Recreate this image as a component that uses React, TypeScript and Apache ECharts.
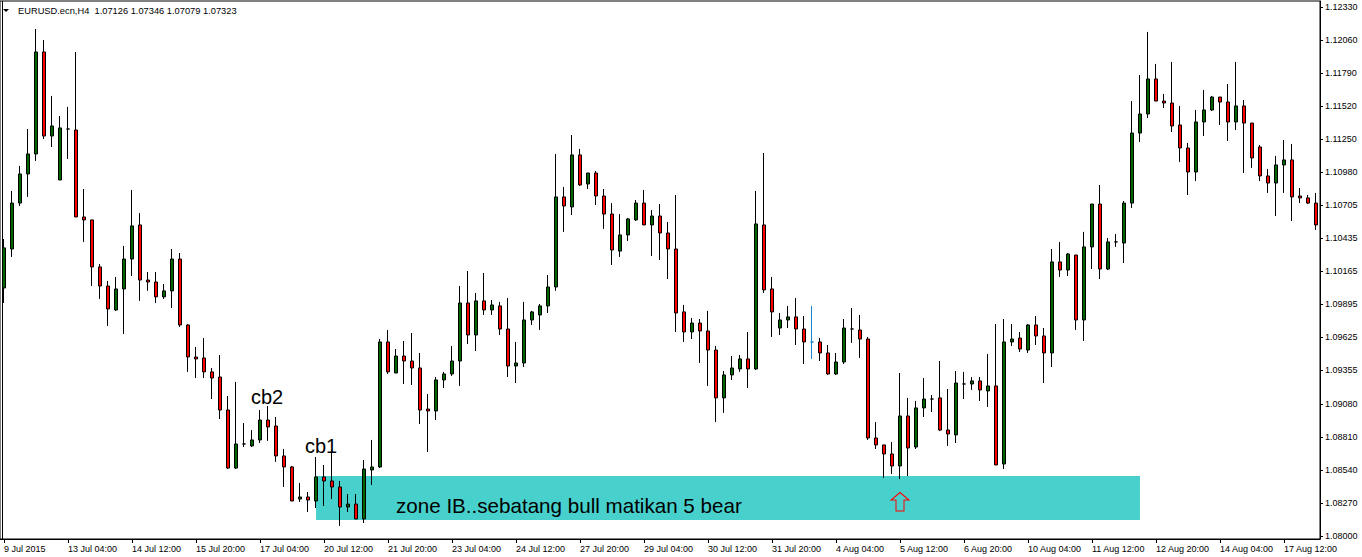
import React, { useEffect, useRef } from "react";
import * as echarts from "echarts";

const header = "EURUSD.ecn,H4  1.07126 1.07346 1.07079 1.07323";

const tickLabels = [
  "9 Jul 2015", "13 Jul 04:00", "14 Jul 12:00", "15 Jul 20:00", "17 Jul 04:00",
  "20 Jul 12:00", "21 Jul 20:00", "23 Jul 04:00", "24 Jul 12:00", "27 Jul 20:00",
  "29 Jul 04:00", "30 Jul 12:00", "31 Jul 20:00", "4 Aug 04:00", "5 Aug 12:00",
  "6 Aug 20:00", "10 Aug 04:00", "11 Aug 12:00", "12 Aug 20:00", "14 Aug 04:00",
  "17 Aug 12:00",
];
const barsPerLabel = 8;

const priceTicks = [
  1.08, 1.0827, 1.0854, 1.0881, 1.0908, 1.09355, 1.09625, 1.09895, 1.10165,
  1.10435, 1.10705, 1.1098, 1.1125, 1.1152, 1.1179, 1.1206, 1.1233,
];

const opens = [
  1.10030, 1.10349, 1.10725, 1.10963, 1.11127, 1.11962, 1.11274, 1.10914, 1.11331, 1.11323,
  1.10611, 1.10587, 1.10202, 1.10046, 1.09850, 1.10022, 1.10267, 1.10546, 1.10095, 1.10079,
  1.09957, 1.10006, 1.10267, 1.09727, 1.09465, 1.09457, 1.09343, 1.09301, 1.09031, 1.08556,
  1.08753, 1.08737, 1.08786, 1.08949, 1.08900, 1.08655, 1.08565, 1.08302, 1.08319, 1.08286,
  1.08483, 1.08450, 1.08401, 1.08237, 1.08261, 1.08139, 1.08540, 1.08565, 1.09588, 1.09334,
  1.09473, 1.09432, 1.09375, 1.09039, 1.09023, 1.09277, 1.09326, 1.09432, 1.09907, 1.09645,
  1.09924, 1.09850, 1.09883, 1.09694, 1.09391, 1.09416, 1.09768, 1.09809, 1.09883, 1.10038,
  1.10775, 1.10693, 1.11119, 1.10881, 1.10971, 1.10783, 1.10635, 1.10332, 1.10464, 1.10587,
  1.10725, 1.10546, 1.10619, 1.10480, 1.10349, 1.09834, 1.09670, 1.09743, 1.09678, 1.09522,
  1.09130, 1.09318, 1.09367, 1.09449, 1.09367, 1.10546, 1.10022, 1.09702, 1.09768, 1.09793,
  1.09694, 1.09588, 1.09588, 1.09498, 1.09326, 1.09424, 1.09694, 1.09686, 1.09612, 1.08802,
  1.08745, 1.08671, 1.08573, 1.08982, 1.08728, 1.09048, 1.09121, 1.09130, 1.08867, 1.08827,
  1.09244, 1.09244, 1.09269, 1.09187, 1.09228, 1.08589, 1.09588, 1.09620, 1.09522, 1.09727,
  1.09637, 1.09498, 1.10243, 1.10177, 1.10300, 1.09768, 1.10366, 1.10717, 1.10185, 1.10407,
  1.10398, 1.10725, 1.11298, 1.11454, 1.11741, 1.11560, 1.11544, 1.11364, 1.11176, 1.10979,
  1.11389, 1.11487, 1.11593, 1.11552, 1.11389, 1.11520, 1.11380, 1.11184, 1.10947, 1.10889,
  1.11037, 1.11078, 1.10783, 1.10767, 1.10725,
];

const closes = [
  1.10358, 1.10725, 1.10963, 1.11127, 1.11962, 1.11274, 1.11356, 1.11340, 1.11331, 1.10611,
  1.10587, 1.10202, 1.10046, 1.09858, 1.10022, 1.10267, 1.10538, 1.10095, 1.10079, 1.09957,
  1.10006, 1.10267, 1.09727, 1.09465, 1.09449, 1.09343, 1.09293, 1.09031, 1.08556, 1.08753,
  1.08753, 1.08786, 1.08949, 1.08892, 1.08655, 1.08565, 1.08286, 1.08319, 1.08294, 1.08483,
  1.08450, 1.08401, 1.08237, 1.08261, 1.08139, 1.08548, 1.08565, 1.09588, 1.09343, 1.09473,
  1.09432, 1.09375, 1.09031, 1.09023, 1.09277, 1.09326, 1.09432, 1.09907, 1.09645, 1.09924,
  1.09850, 1.09891, 1.09694, 1.09391, 1.09416, 1.09768, 1.09834, 1.09883, 1.10038, 1.10775,
  1.10701, 1.11119, 1.10873, 1.10971, 1.10783, 1.10635, 1.10341, 1.10464, 1.10595, 1.10725,
  1.10546, 1.10619, 1.10480, 1.10349, 1.09825, 1.09670, 1.09743, 1.09678, 1.09522, 1.09130,
  1.09318, 1.09375, 1.09449, 1.09367, 1.10554, 1.10014, 1.09834, 1.09768, 1.09793, 1.09694,
  1.09588, 1.09588, 1.09498, 1.09326, 1.09424, 1.09702, 1.09694, 1.09612, 1.08802, 1.08745,
  1.08671, 1.08573, 1.08982, 1.08720, 1.09048, 1.09121, 1.09121, 1.08867, 1.08835, 1.09252,
  1.09244, 1.09269, 1.09195, 1.09228, 1.08581, 1.09588, 1.09612, 1.09530, 1.09727, 1.09637,
  1.09498, 1.10243, 1.10177, 1.10308, 1.09768, 1.10366, 1.10717, 1.10185, 1.10407, 1.10407,
  1.10725, 1.11298, 1.11454, 1.11741, 1.11560, 1.11544, 1.11356, 1.11176, 1.10979, 1.11389,
  1.11487, 1.11593, 1.11552, 1.11389, 1.11520, 1.11380, 1.11094, 1.10947, 1.10889, 1.11037,
  1.11078, 1.10775, 1.10767, 1.10725, 1.10546,
];

const lows = [
  1.09907, 1.10284, 1.10701, 1.10775, 1.11070, 1.11249, 1.11184, 1.10914, 1.11086, 1.10611,
  1.10407, 1.10046, 1.09940, 1.09719, 1.09842, 1.09653, 1.10128, 1.09924, 1.10006, 1.09907,
  1.09940, 1.09866, 1.09711, 1.09343, 1.09293, 1.09293, 1.09121, 1.08957, 1.08548, 1.08548,
  1.08728, 1.08728, 1.08761, 1.08778, 1.08606, 1.08401, 1.08286, 1.08278, 1.08196, 1.08229,
  1.08245, 1.08302, 1.08082, 1.08196, 1.08139, 1.08106, 1.08417, 1.08556, 1.09326, 1.09334,
  1.09244, 1.09236, 1.08916, 1.08687, 1.08949, 1.09211, 1.09310, 1.09228, 1.09571, 1.09514,
  1.09809, 1.09809, 1.09645, 1.09301, 1.09252, 1.09383, 1.09727, 1.09686, 1.09825, 1.10006,
  1.10489, 1.10627, 1.10865, 1.10840, 1.10709, 1.10513, 1.10218, 1.10284, 1.10415, 1.10578,
  1.10546, 1.10292, 1.10259, 1.10103, 1.09670, 1.09588, 1.09612, 1.09416, 1.09228, 1.08932,
  1.09007, 1.09277, 1.09343, 1.09211, 1.09359, 1.09989, 1.09629, 1.09645, 1.09702, 1.09563,
  1.09408, 1.09449, 1.09432, 1.09318, 1.09318, 1.09408, 1.09580, 1.09457, 1.08786, 1.08712,
  1.08475, 1.08507, 1.08466, 1.08491, 1.08712, 1.08974, 1.09015, 1.08859, 1.08737, 1.08761,
  1.09121, 1.09195, 1.09105, 1.09056, 1.08581, 1.08548, 1.09555, 1.09506, 1.09498, 1.09563,
  1.09252, 1.09383, 1.10120, 1.10128, 1.09686, 1.09596, 1.10185, 1.10103, 1.10177, 1.10366,
  1.10234, 1.10685, 1.11225, 1.11421, 1.11560, 1.11503, 1.11307, 1.11062, 1.10791, 1.10905,
  1.11274, 1.11479, 1.11364, 1.11233, 1.11323, 1.10971, 1.11013, 1.10905, 1.10808, 1.10619,
  1.10808, 1.10578, 1.10725, 1.10717, 1.10505,
];

const highs = [
  1.10431, 1.10824, 1.11029, 1.11331, 1.12150, 1.12060, 1.11602, 1.11438, 1.11512, 1.11962,
  1.10840, 1.10587, 1.10226, 1.10087, 1.10120, 1.10374, 1.10832, 1.10643, 1.10161, 1.10161,
  1.10063, 1.10349, 1.10316, 1.09735, 1.09547, 1.09620, 1.09375, 1.09481, 1.09146, 1.09261,
  1.08924, 1.08867, 1.09031, 1.09064, 1.08974, 1.08712, 1.08573, 1.08434, 1.08360, 1.08647,
  1.08581, 1.08704, 1.08450, 1.08343, 1.08343, 1.08622, 1.08786, 1.09612, 1.09686, 1.09530,
  1.09596, 1.09661, 1.09498, 1.09162, 1.09301, 1.09343, 1.09555, 1.10046, 1.10169, 1.09989,
  1.10153, 1.09932, 1.09916, 1.09948, 1.09588, 1.09916, 1.09842, 1.09899, 1.10136, 1.11127,
  1.10857, 1.11282, 1.11168, 1.10971, 1.10988, 1.10840, 1.10725, 1.10635, 1.10603, 1.10750,
  1.10832, 1.10668, 1.10717, 1.10570, 1.10791, 1.09891, 1.09784, 1.09776, 1.09842, 1.09555,
  1.09350, 1.09473, 1.09481, 1.09670, 1.10824, 1.11135, 1.10120, 1.09825, 1.09883, 1.09948,
  1.09801, 1.09883, 1.09620, 1.09563, 1.09498, 1.09776, 1.09866, 1.09809, 1.09629, 1.08932,
  1.08745, 1.08769, 1.09334, 1.09130, 1.09105, 1.09293, 1.09154, 1.09432, 1.09203, 1.09350,
  1.09343, 1.09301, 1.09301, 1.09490, 1.09735, 1.09776, 1.09735, 1.09670, 1.09735, 1.09801,
  1.09702, 1.10349, 1.10407, 1.10316, 1.10300, 1.10489, 1.10717, 1.10873, 1.10439, 1.10472,
  1.10742, 1.11560, 1.11773, 1.12126, 1.11864, 1.11618, 1.11880, 1.11520, 1.11217, 1.11487,
  1.11651, 1.11602, 1.11593, 1.11700, 1.11880, 1.11569, 1.11380, 1.11200, 1.11004, 1.11111,
  1.11241, 1.11209, 1.10848, 1.10791, 1.10808,
];

const blueDojiIndex = 101;

const zoneFromBar = 39;
const zoneToBar = 142;
const zoneTop = 1.08491;
const zoneBottom = 1.08131;
const zoneText = "zone IB..sebatang bull matikan 5 bear";

const arrowBar = 112;
const arrowPrice = 1.0828;

const cb2Text = "cb2";
const cb1Text = "cb1";

const axisFont = '"Liberation Sans", Arial, sans-serif';

export default function App() {
  const ref = useRef<HTMLDivElement>(null);

  useEffect(() => {
    if (!ref.current) return;
    const chart = echarts.init(ref.current, undefined, { renderer: "svg" });

    const categories = opens.map((_, i) => String(i));
    const candles = opens.map((o, i) => {
      const item: any = { value: [o, closes[i], lows[i], highs[i]] };
      if (i === blueDojiIndex) {
        item.itemStyle = {
          borderColor: "#1A86D6",
          borderColor0: "#1A86D6",
          borderColorDoji: "#1A86D6",
        };
      }
      return item;
    });

    const option: any = {
      animation: false,
      backgroundColor: "#ffffff",
      grid: {
        left: 0,
        right: 42,
        top: 1,
        bottom: 18,
        show: true,
        borderColor: "#000",
        borderWidth: 1,
        backgroundColor: "#fff",
      },
      xAxis: {
        type: "category",
        data: categories,
        boundaryGap: true,
        axisLine: { show: true, lineStyle: { color: "#000", width: 1 } },
        axisTick: {
          show: true,
          interval: barsPerLabel - 1,
          alignWithLabel: true,
          length: 4,
          lineStyle: { color: "#000" },
        },
        axisLabel: {
          interval: barsPerLabel - 1,
          align: "left",
          margin: 5,
          color: "#000",
          fontSize: 9,
          fontFamily: axisFont,
          formatter: (_v: string, idx: number) =>
            idx % barsPerLabel === 0 ? tickLabels[idx / barsPerLabel] ?? "" : "",
        },
        splitLine: { show: false },
      },
      yAxis: {
        type: "value",
        position: "right",
        min: 1.07975,
        max: 1.12379,
        scale: true,
        axisLine: { show: true, lineStyle: { color: "#000", width: 1 } },
        axisTick: {
          show: true,
          customValues: priceTicks,
          length: 3,
          lineStyle: { color: "#000" },
        },
        axisLabel: {
          customValues: priceTicks,
          margin: 5,
          color: "#000",
          fontSize: 9,
          fontFamily: axisFont,
          formatter: (v: number) => v.toFixed(5),
        },
        splitLine: { show: false },
      },
      series: [
        {
          type: "candlestick",
          data: candles,
          barWidth: 4,
          itemStyle: {
            color: "#006400",
            color0: "#FF0000",
            borderColor: "#000",
            borderColor0: "#000",
            borderColorDoji: "#000",
            borderWidth: 1,
          },
          markArea: {
            silent: true,
            itemStyle: { color: "#48D1CC", opacity: 1 },
            label: { show: false },
            data: [
              [
                { xAxis: zoneFromBar, yAxis: zoneTop },
                { xAxis: zoneToBar, yAxis: zoneBottom },
              ],
            ],
          },
          markPoint: {
            silent: true,
            data: [
              {
                coord: [arrowBar, arrowPrice],
                symbol: "path://M9,0L18,7.5L13,7.5L13,18.5L5,18.5L5,7.5L0,7.5Z",
                symbolSize: [18, 18.5],
                itemStyle: {
                  color: "rgba(0,0,0,0)",
                  borderColor: "#FF0000",
                  borderWidth: 1,
                },
                label: { show: false },
              },
            ],
          },
        },
      ],
      graphic: [
        {
          type: "line",
          shape: { x1: 2.5, y1: 1, x2: 2.5, y2: 539 },
          style: { stroke: "#000", lineWidth: 1 },
          z: 100,
        },
        {
          type: "polygon",
          shape: { points: [[3, 9], [9, 9], [6, 12]] },
          style: { fill: "#000" },
          z: 100,
        },
        {
          type: "text",
          x: 18,
          y: 11,
          z: 100,
          style: {
            text: header,
            fill: "#000",
            font: '9.3px "Liberation Sans", Arial, sans-serif',
            align: "left",
            verticalAlign: "middle",
          },
        },
        {
          type: "text",
          x: 267,
          y: 397,
          z: 100,
          style: {
            text: cb2Text,
            fill: "#000",
            font: '20px "Liberation Sans", Arial, sans-serif',
            align: "center",
            verticalAlign: "middle",
          },
        },
        {
          type: "text",
          x: 321,
          y: 446,
          z: 100,
          style: {
            text: cb1Text,
            fill: "#000",
            font: '20px "Liberation Sans", Arial, sans-serif',
            align: "center",
            verticalAlign: "middle",
          },
        },
        {
          type: "text",
          x: 396,
          y: 505,
          z: 100,
          style: {
            text: zoneText,
            fill: "#000",
            font: '20.6px "Liberation Sans", Arial, sans-serif',
            align: "left",
            verticalAlign: "middle",
          },
        },
      ],
    };

    chart.setOption(option);
    return () => chart.dispose();
  }, []);

  return (
    <div
      ref={ref}
      style={{
        position: "fixed",
        left: 0,
        top: 0,
        width: 1362,
        height: 557,
        background: "#fff",
      }}
    />
  );
}
